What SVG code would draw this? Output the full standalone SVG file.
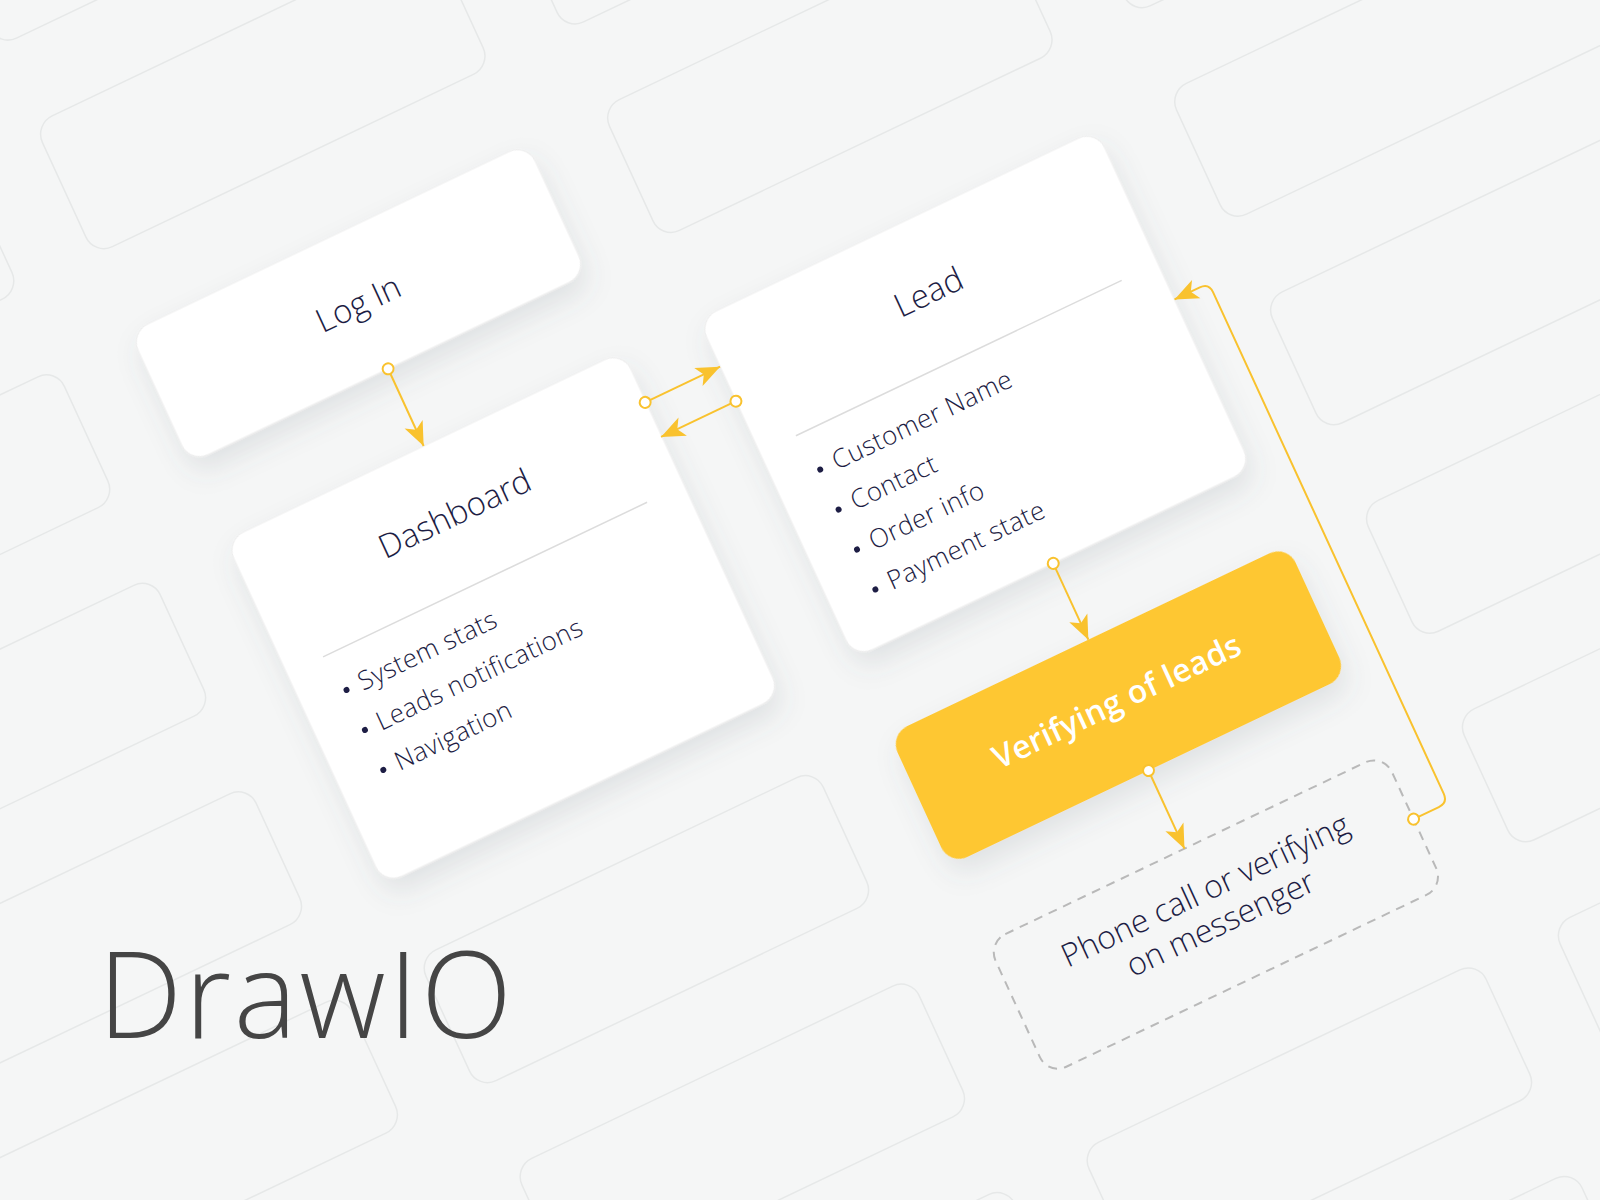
<svg xmlns="http://www.w3.org/2000/svg" xmlns:xlink="http://www.w3.org/1999/xlink" width="1600" height="1200" viewBox="0 0 1600 1200">
<defs>
<style>
.bg{fill:#f5f6f6}
.tile{fill:none;stroke:#e6e8e8;stroke-width:1.5}
.card{fill:#ffffff;stroke:#ededed;stroke-width:1;filter:url(#sh)}
.vcard{fill:#fec733;filter:url(#sh)}
.dashbox{fill:none;stroke:#b9b9b9;stroke-width:2;stroke-dasharray:9 7}
.title{font-family:'Open Sans','Noto Sans',sans-serif;font-size:33px;font-weight:300;fill:#1d1d44;text-anchor:middle}
.item{font-family:'Open Sans','Noto Sans',sans-serif;font-size:26px;font-weight:300;fill:#1d1d44;letter-spacing:0.4px}
.vtext{font-family:'Open Sans','Noto Sans',sans-serif;font-size:32px;font-weight:600;fill:#ffffff;text-anchor:middle;letter-spacing:0.3px}
.ptext{font-family:'Open Sans','Noto Sans',sans-serif;font-size:32px;font-weight:300;fill:#1d1d44;text-anchor:middle}
.divider{stroke:#dcdcdc;stroke-width:1.5}
.bul{fill:#1d1d44}
.conn{fill:none;stroke:#f9c22e;stroke-width:2;marker-start:url(#dot);marker-end:url(#arr)}
.logo{font-family:'Open Sans','Noto Sans',sans-serif;font-size:119px;font-weight:300;fill:#454545}
</style>
<filter id="sh" x="-20%" y="-20%" width="140%" height="160%">
<feDropShadow dx="0" dy="14" stdDeviation="13" flood-color="#5a6070" flood-opacity="0.13"/>
</filter>
<rect id="t" class="tile" width="440" height="144" rx="20" ry="20"/>
<marker id="arr" viewBox="-25 -11 26 22" refX="0" refY="0" markerWidth="26" markerHeight="22" markerUnits="userSpaceOnUse" orient="auto">
<path d="M0,0 L-24,-10 L-18,0 L-24,10 Z" fill="#f9c22e"/>
</marker>
<marker id="dot" viewBox="-8 -8 16 16" refX="0" refY="0" markerWidth="16" markerHeight="16" markerUnits="userSpaceOnUse" orient="auto">
<circle r="5.5" fill="#ffffff" stroke="#f9c22e" stroke-width="2"/>
</marker>
</defs>
<rect class="bg" x="0" y="0" width="1600" height="1200"/>
<g transform="matrix(0.9026,-0.4305,0.4179,0.9085,0,0)">
<g id="tiles">
<use href="#t" x="-543" y="127"/>
<use href="#t" x="-543" y="356.5"/>
<use href="#t" x="-543" y="586"/>
<use href="#t" x="-543" y="815.5"/>
<use href="#t" x="-543" y="1045"/>
<use href="#t" x="-21" y="-102.5"/>
<use href="#t" x="-21" y="127"/>
<use href="#t" x="-21" y="1045"/>
<use href="#t" x="-21" y="1274.5"/>
<use href="#t" x="-21" y="1504"/>
<use href="#t" x="501" y="127"/>
<use href="#t" x="501" y="356.5"/>
<use href="#t" x="501" y="1504"/>
<use href="#t" x="501" y="1733.5"/>
<use href="#t" x="1023" y="356.5"/>
<use href="#t" x="1023" y="586"/>
<use href="#t" x="1023" y="815.5"/>
<use href="#t" x="1023" y="1045"/>
<use href="#t" x="1023" y="1274.5"/>
<use href="#t" x="1023" y="1504"/>
</g>
<g id="node-login">
<rect class="card" x="-21" y="356" width="440" height="144" rx="20" ry="20"/>
<text class="title" x="198.5" y="440">Log In</text>
</g>
<g id="node-dashboard">
<rect class="card" x="-21" y="585" width="440" height="379" rx="20" ry="20"/>
<text class="title" x="198.5" y="671">Dashboard</text>
<line class="divider" x1="19" y1="732" x2="378" y2="732"/>
<circle class="bul" cx="26.5" cy="772" r="3"/>
<circle class="bul" cx="26.5" cy="816" r="3"/>
<circle class="bul" cx="26.5" cy="860" r="3"/>
<text class="item" x="41" y="780">System stats</text>
<text class="item" x="41" y="824">Leads notifications</text>
<text class="item" x="41" y="868">Navigation</text>
</g>
<g id="node-lead">
<rect class="card" x="501" y="589" width="441" height="373" rx="20" ry="20"/>
<text class="title" x="721.5" y="675">Lead</text>
<line class="divider" x1="541" y1="736" x2="902" y2="736"/>
<circle class="bul" cx="549" cy="777" r="3"/>
<circle class="bul" cx="549" cy="821" r="3"/>
<circle class="bul" cx="549" cy="865" r="3"/>
<circle class="bul" cx="549" cy="909" r="3"/>
<text class="item" x="564" y="785">Customer Name</text>
<text class="item" x="564" y="829">Contact</text>
<text class="item" x="564" y="873">Order info</text>
<text class="item" x="564" y="917">Payment state</text>
</g>
<g id="node-verifying">
<rect class="vcard" x="501" y="1046" width="441" height="144" rx="20" ry="20"/>
<text class="vtext" x="721.5" y="1125">Verifying of leads</text>
</g>
<g id="node-phone">
<rect class="dashbox" x="503" y="1276" width="439" height="146" rx="20" ry="20"/>
<text class="ptext" x="723" y="1333.5">Phone call or verifying</text>
<text class="ptext" x="723" y="1370">on messenger</text>
</g>
<g id="connectors">
<path class="conn" d="M198.5,500 V585"/>
<path class="conn" d="M418,641 H501"/>
<path class="conn" d="M501,679 H418"/>
<path class="conn" d="M721.5,962 V1046"/>
<path class="conn" d="M721.5,1190 V1276"/>
<path class="conn" d="M942,1348 H970 Q980,1348 980,1338 V786 Q980,776 970,776 H942"/>
</g>
</g>
<text class="logo" x="98" y="1038" textLength="414" lengthAdjust="spacing">DrawIO</text>
</svg>
